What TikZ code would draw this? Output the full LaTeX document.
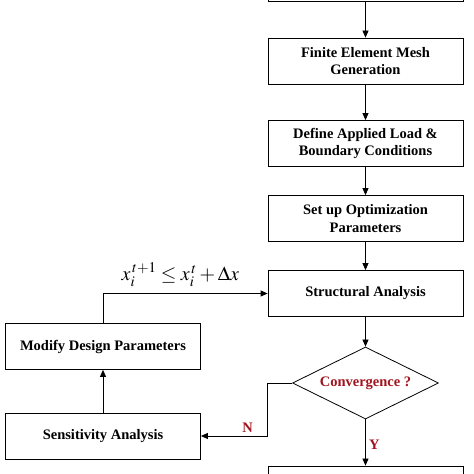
\documentclass[tikz,border=0pt]{standalone}
\usepackage{amsmath, amssymb}
\usepackage{mathptmx}
\usepackage{fontspec}
\setmainfont{Liberation Serif}
\usepackage{xcolor}
\usepackage{tikz}
\usetikzlibrary{calc, shapes.geometric, positioning, arrows.meta}

\definecolor{darkred}{RGB}{160,20,30}

\begin{document}
\begin{tikzpicture}[>={Triangle[length=7pt, width=6pt]}, x=1pt, y=1pt,
    box/.style={draw, line width=0.8pt, minimum width=195pt, minimum height=46pt,
        align=center, font=\fontsize{14.5}{17.5}\selectfont\bfseries, inner sep=2pt},
    decision/.style={draw, diamond, line width=0.8pt, minimum width=146pt,
        minimum height=72pt, inner sep=0pt, aspect=2,
        font=\fontsize{14.5}{17.5}\selectfont\bfseries, text=darkred},
    flow/.style={->, line width=0.8pt},
    answer/.style={text=darkred, font=\fontsize{14.5}{17.5}\selectfont\bfseries}]

    \useasboundingbox (0,0) rectangle (474,474);

    % =================================================================
    % 1. CÁC KHỐI CHÍNH
    % =================================================================
    \node[box] (start) at (365.5,496) {};
    \node[box] (mesh) at (365.5,413) {Finite Element Mesh\\Generation};
    \node[box] (load) at (365.5,330.5) {Define Applied Load \&\\Boundary Conditions};
    \node[box] (setup) at (365.5,255.5) {Set up Optimization\\Parameters};
    \node[box] (struct) at (365.5,180.5) {Structural Analysis};
    \node[decision] (conv) at (365.5,91) {Convergence ?};
    \node[box] (final) at (365.5,-15) {};

    % Nhánh vòng lặp bên trái
    \node[box] (modify) at (103,127.5) {Modify Design Parameters};
    \node[box] (sens) at (103,38) {Sensitivity Analysis};

    % =================================================================
    % 2. CÁC MŨI TÊN
    % =================================================================
    \draw[flow] (start) -- (mesh);
    \draw[flow] (mesh) -- (load);
    \draw[flow] (load) -- (setup);
    \draw[flow] (setup) -- (struct);
    \draw[flow] (struct) -- (conv);
    \draw[flow] (conv) -- node[pos=0.55, right, answer] {Y} (final);

    % Không hội tụ: quay về phân tích độ nhạy
    \draw[flow] (conv.west) -| ($(struct.west |- sens.east)$) -- (sens.east)
        node[pos=0.3, above, answer] {N};

    \draw[flow] (sens) -- (modify);
    \draw[flow] (modify.north) |- (struct.west)
        node[pos=0.735, above=3pt, font=\fontsize{20}{22}\selectfont] {$x_i^{\,t+1} \le x_i^{\,t} + \Delta x$};

\end{tikzpicture}
\end{document}
